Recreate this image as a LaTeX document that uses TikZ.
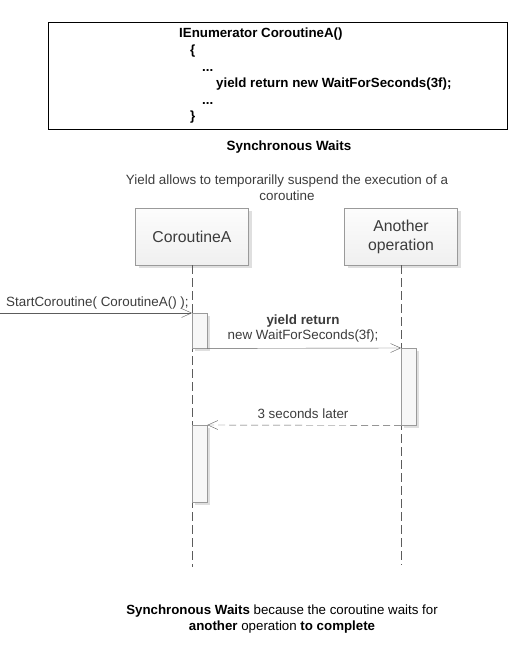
\documentclass[tikz,border=0pt]{standalone}
\usepackage{fontspec}
\setmainfont{Liberation Sans}
\usepackage{xcolor}
\usetikzlibrary{positioning, arrows.meta, shadows}

\definecolor{umlline}{HTML}{5C5C5C}
\definecolor{umltext}{HTML}{3C3C3C}
\definecolor{umlborder}{HTML}{9A9A9A}

\begin{document}
\begin{tikzpicture}[x=1pt, y=-1pt,
    lifebox/.style={draw=umlborder, top color=gray!2, bottom color=gray!12,
        minimum width=113pt, minimum height=57pt, inner sep=2pt, align=center,
        text=umltext, font=\fontsize{15.8}{19}\selectfont,
        drop shadow={opacity=0.25, shadow xshift=3pt, shadow yshift=-3pt}},
    activation/.style={draw=umlborder, fill=gray!6, minimum width=15pt,
        inner sep=0pt, anchor=north west,
        drop shadow={opacity=0.25, shadow xshift=3pt, shadow yshift=-3pt}},
    lifeline/.style={draw=umlline, dash pattern=on 9pt off 4pt},
    msg/.style={draw=umlline, -{Straight Barb[length=10pt, width=9pt]}},
    reply/.style={msg, dash pattern=on 7pt off 4pt},
    msglabel/.style={text=umltext, font=\fontsize{13.4}{15}\selectfont, inner sep=1pt}
]
    \useasboundingbox (0,0) rectangle (532,650);
    % code box
    \draw[black, thick] (48,22) rectangle (507,129);
    \node[anchor=north west, align=left, inner sep=0pt, font=\bfseries\fontsize{13.3}{16.6}\selectfont] (code) at (179,28)
        {IEnumerator CoroutineA()\\
         \hspace*{11pt}\{\\
         \hspace*{23pt}...\\
         \hspace*{37pt}yield return new WaitForSeconds(3f);\\
         \hspace*{23pt}...\\
         \hspace*{11pt}\}};
    \node[font=\bfseries\fontsize{13.4}{15}\selectfont] (title) at (289,147) {Synchronous Waits};
    \node[align=center, text=umltext, font=\fontsize{13.4}{16}\selectfont] (note) at (287,188)
        {Yield allows to temporarilly suspend the execution of a\\ coroutine};
    % participants
    \node[lifebox] (boxA) at (192,236.5) {CoroutineA};
    \node[lifebox] (boxB) at (401,236.5) {Another\\operation};
    \coordinate (endA) at (192,567);
    \coordinate (endB) at (401,565);
    \draw[lifeline] (boxA.south) -- (endA);
    \draw[lifeline] (boxB.south) -- (endB);
    % activations
    \node[activation, minimum height=35pt] (actA1) at (192,313) {};
    \node[activation, minimum height=77pt] (actB) at (401,348) {};
    \node[activation, minimum height=77pt] (actA2) at (192,425) {};
    % messages
    \coordinate (start) at (0,313);
    \draw[msg] (start) -- (actA1.north west);
    \node[msglabel, anchor=south west] (lblStart) at (5,310) {StartCoroutine( CoroutineA() );};
    \draw[msg] (actA1.south east) -- (actB.north west);
    \node[msglabel, align=center] (lblYield) at (303,329)
        {\textbf{yield return}\\new WaitForSeconds(3f);};
    \draw[reply] (actB.south west) -- (actA2.north east);
    \node[msglabel] (lblLater) at (303,414) {3 seconds later};
    % caption
    \node[align=center, font=\fontsize{13.3}{16}\selectfont] (caption) at (282,619)
        {\textbf{Synchronous Waits} because the coroutine waits for\\
         \textbf{another} operation \textbf{to complete}};
\end{tikzpicture}
\end{document}
